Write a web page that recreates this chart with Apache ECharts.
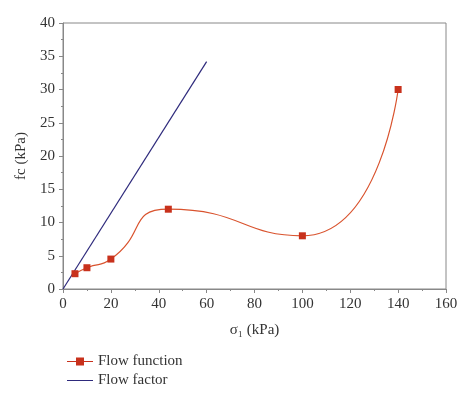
<!DOCTYPE html><html><head><meta charset="utf-8"><script src="https://cdn.jsdelivr.net/npm/echarts@6/dist/echarts.min.js"></script></head><body style="margin:0"><div id="c" style="width:474px;height:401px"></div><script>
const ffX=[5,10,20,44,100,140], ffY=[2.3,3.2,4.5,12,8,30];
const facX=[0,60], facY=[0,34.2];
const xTicks=[0,20,40,60,80,100,120,140,160];
const font='Liberation Serif';
const c=echarts.init(document.getElementById('c'));
const ax={axisLine:{show:true,lineStyle:{color:'#888'}},axisTick:{show:true,inside:false,length:4,lineStyle:{color:'#888'}},minorTick:{show:true,splitNumber:2,length:2,lineStyle:{color:'#888'}},splitLine:{show:false},axisLabel:{color:'#333',fontFamily:font,fontSize:15},nameTextStyle:{color:'#333',fontFamily:font,fontSize:15}};
c.setOption({animation:false,textStyle:{fontFamily:font},
grid:{left:63,right:28,top:23,bottom:112,show:true,borderColor:'#888',borderWidth:1},
legend:{orient:'vertical',left:62,top:349,itemGap:4,itemWidth:26,itemHeight:10,textStyle:{fontFamily:font,fontSize:15,color:'#333'},data:[{name:'Flow function',icon:'path://M0,4.5L9,4.5L9,1L17,1L17,4.5L26,4.5L26,5.5L17,5.5L17,9L9,9L9,5.5L0,5.5Z'},{name:'Flow factor',icon:'path://M0,4.5L26,4.5L26,5.5L0,5.5Z'}]},
xAxis:{type:'value',min:0,max:160,interval:20,name:'σ₁ (kPa)',nameLocation:'middle',nameGap:34,...ax},
yAxis:{type:'value',min:0,max:40,interval:5,name:'fc (kPa)',nameLocation:'middle',nameGap:34,...ax},
series:[{name:'Flow function',type:'line',smooth:0.6,data:ffX.map((x,i)=>[x,ffY[i]]),symbol:'rect',symbolSize:7,itemStyle:{color:'#c8311c'},lineStyle:{color:'#d9532e',width:1.2}},
{name:'Flow factor',type:'line',data:facX.map((x,i)=>[x,facY[i]]),symbol:'none',itemStyle:{color:'#2e2a7c'},lineStyle:{color:'#2e2a7c',width:1.2}}]});
</script></body></html>
